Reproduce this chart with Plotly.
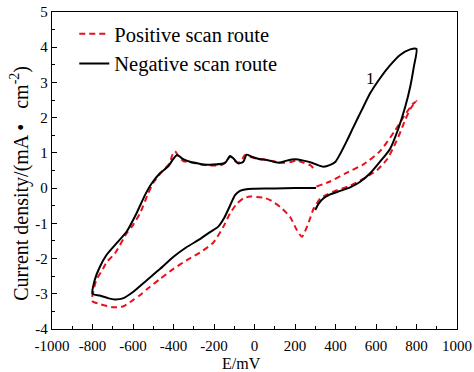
import plotly.graph_objects as go

# Negative scan route (black, solid)
neg_x = [300, 317, 341, 374, 423, 472, 522, 571, 620, 670, 711, 744, 769, 787, 800,
         769, 719, 670, 620, 571, 530, 489, 456, 423, 400, 374, 340, 310, 283, 242, 200,
         159, 126, 93, 60, 27, -14, -39, -55, -80, -104, -121, -140, -154, -204, -253,
         -286, -319, -352, -382, -402, -426, -467, -508, -541, -583, -632, -682, -731,
         -764, -789, -800,
         -764, -720, -690, -650, -600, -533, -467, -400, -336, -270, -220, -180, -150,
         -121, -96, -72, -40, 0, 100, 200, 304]
neg_y = [-0.62, -0.44, -0.29, -0.18, -0.08, 0.02, 0.18, 0.42, 0.75, 1.12, 1.70, 2.30, 2.88, 3.45, 3.95,
         3.94, 3.78, 3.49, 3.12, 2.69, 2.22, 1.74, 1.34, 0.97, 0.75, 0.66, 0.61, 0.66, 0.72, 0.78, 0.82,
         0.78, 0.72, 0.75, 0.80, 0.82, 0.89, 0.95, 0.75, 0.70, 0.84, 0.91, 0.75, 0.70, 0.67, 0.67,
         0.71, 0.75, 0.82, 0.94, 0.82, 0.62, 0.42, 0.13, -0.20, -0.72, -1.24, -1.57, -1.90,
         -2.24, -2.61, -3.00,
         -3.05, -3.13, -3.16, -3.13, -2.95, -2.62, -2.30, -1.95, -1.68, -1.45, -1.25, -1.10, -0.85,
         -0.50, -0.20, -0.08, -0.03, -0.02, -0.01, 0.00, 0.00]

# Positive scan route (red, dashed)
pos_x = [290, 275, 242, 209, 176, 143, 110, 77, 43, 10, -20, -47, -65, -85, -105, -121, -140,
         -160, -204, -253, -286, -320, -352, -375, -393, -405, -420, -460, -500, -525, -566,
         -600, -632, -690, -730, -747, -781, -795, -802,
         -760, -700, -650, -600, -566, -533, -467, -402, -336, -270, -204, -154, -121, -88,
         -55, -20, 10, 50, 77, 126, 176, 209, 234, 259, 275, 292, 324, 360, 407, 472, 539,
         605, 655, 690, 721, 745, 770, 790, 800,
         780, 740, 690, 620, 540, 450, 370, 304]
pos_y = [0.57, 0.65, 0.72, 0.78, 0.74, 0.72, 0.75, 0.78, 0.82, 0.84, 0.88, 0.94, 0.78, 0.72, 0.82, 0.90, 0.74,
         0.66, 0.64, 0.66, 0.70, 0.74, 0.77, 0.90, 1.05, 0.95, 0.70, 0.45, 0.15, -0.15, -0.72,
         -1.05, -1.29, -1.86, -2.10, -2.28, -2.61, -2.90, -3.20,
         -3.30, -3.38, -3.36, -3.18, -3.04, -2.88, -2.58, -2.30, -2.05, -1.83, -1.55, -1.10, -0.72, -0.45,
         -0.29, -0.24, -0.25, -0.28, -0.34, -0.53, -0.82, -1.19, -1.38, -1.10, -0.85, -0.58, -0.30, -0.18, -0.06, 0.07, 0.27,
         0.51, 0.82, 1.20, 1.60, 1.95, 2.25, 2.42, 2.47,
         2.38, 2.05, 1.60, 1.05, 0.68, 0.42, 0.18, 0.04]

series_names = ["Positive scan route", "Negative scan route"]
x_ticks = [-1000, -800, -600, -400, -200, 0, 200, 400, 600, 800, 1000]
y_ticks = [-4, -3, -2, -1, 0, 1, 2, 3, 4, 5]
label_text = "1"
label_pos = (571, 3.12)
x_title = "E/mV"
y_title = "Current density/(mA \u2022\u00a0\u00a0\u00a0cm<sup>-2</sup>)"

FONT = "Liberation Serif, Times New Roman, serif"

fig = go.Figure()
fig.add_trace(go.Scatter(x=pos_x, y=pos_y, mode="lines", name=series_names[0],
                         line=dict(color="#e8101c", width=2, dash="6px,4px", shape="spline", smoothing=0.6)))
fig.add_trace(go.Scatter(x=neg_x, y=neg_y, mode="lines", name=series_names[1],
                         line=dict(color="black", width=2, shape="spline", smoothing=0.6)))

fig.add_annotation(x=label_pos[0], y=label_pos[1], text=label_text, showarrow=False,
                   font=dict(family=FONT, size=17, color="black"))
# axis titles
fig.add_annotation(xref="paper", yref="paper", x=0.467, y=-0.075, yanchor="top", xanchor="center",
                   text=x_title, showarrow=False, font=dict(family=FONT, size=16, color="black"))
fig.add_annotation(xref="paper", yref="paper", x=-0.08, y=0.46, xanchor="center", yanchor="middle",
                   text=y_title, textangle=-90, showarrow=False,
                   font=dict(family=FONT, size=20, color="black"))

axis_common = dict(showgrid=False, zeroline=False, showline=True, linecolor="black", linewidth=1.3,
                   mirror=True, ticks="inside", ticklen=5, tickwidth=1.2, tickcolor="black",
                   automargin=False,
                   tickfont=dict(family=FONT, size=15, color="black"))

fig.update_xaxes(range=[-1000, 1000], tickvals=x_ticks, ticktext=[str(v) for v in x_ticks],
                 minor=dict(dtick=100, ticks="inside", ticklen=3, tickcolor="black"),
                 ticklabelstandoff=3,
                 **axis_common)
fig.update_yaxes(range=[-4, 5], tickvals=y_ticks, ticktext=[str(v) for v in y_ticks],
                 minor=dict(dtick=0.5, ticks="inside", ticklen=3, tickcolor="black"),
                 **axis_common)

fig.update_layout(
    width=474, height=372,
    margin=dict(l=52, r=17, t=12, b=43, autoexpand=False),
    plot_bgcolor="white", paper_bgcolor="white",
    showlegend=True,
    legend=dict(x=0.055, y=0.994, xanchor="left", yanchor="top", bgcolor="rgba(0,0,0,0)",
                font=dict(family=FONT, size=20.5, color="black"), tracegroupgap=0),
)

fig.write_html("out.html", config={"displayModeBar": False},
               post_script="document.body.style.margin='0';document.body.style.padding='0';")
